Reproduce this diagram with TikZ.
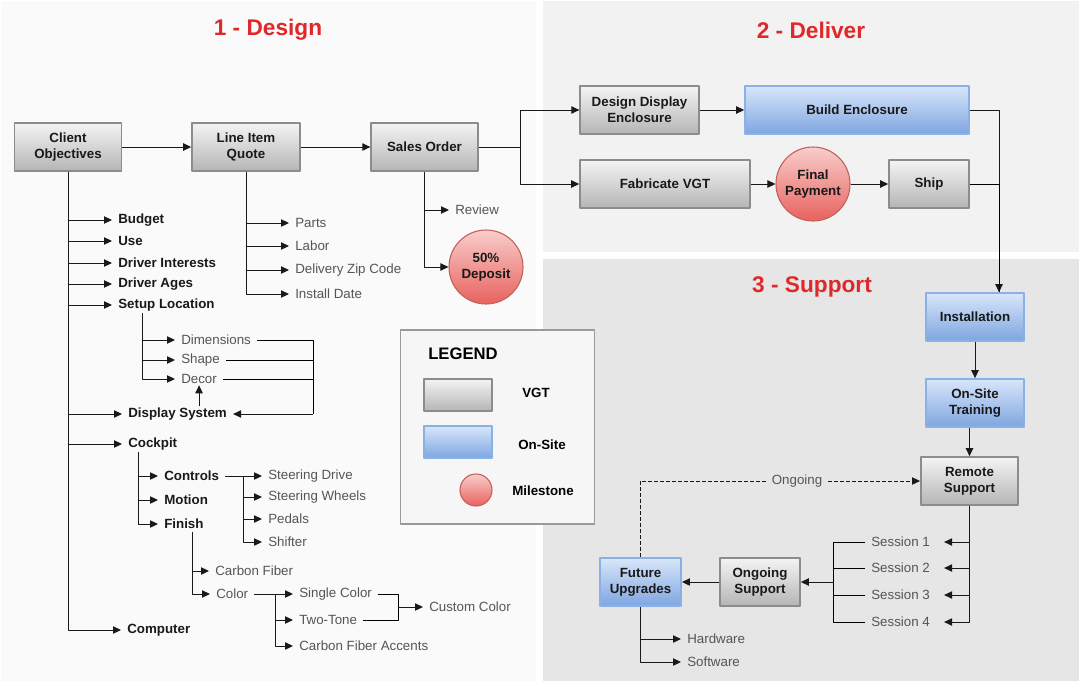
\documentclass[tikz,border=0pt]{standalone}
\usepackage{fontspec}
\setmainfont{Liberation Sans}
\usetikzlibrary{arrows.meta}
\definecolor{designbg}{HTML}{FAFAFA}
\definecolor{deliverbg}{HTML}{F2F2F2}
\definecolor{supportbg}{HTML}{E6E6E6}
\definecolor{vgttop}{HTML}{F4F4F4}
\definecolor{vgtbot}{HTML}{B5B5B5}
\definecolor{vgtline}{HTML}{8C8C8C}
\definecolor{sitetop}{HTML}{D8E6FA}
\definecolor{sitebot}{HTML}{7EA6E0}
\definecolor{siteline}{HTML}{8AB0E6}
\definecolor{miletop}{HTML}{F8CDCB}
\definecolor{milebot}{HTML}{E8625E}
\definecolor{mileline}{HTML}{C0605C}
\definecolor{leafgray}{HTML}{555555}
\definecolor{ttlred}{HTML}{E0282A}
\definecolor{legbg}{HTML}{F6F6F6}
\definecolor{legline}{HTML}{9A9A9A}
\begin{document}
\begin{tikzpicture}[x=0.75pt, y=-0.75pt, font=\fontsize{10}{12}\selectfont, line join=round, >={Triangle[length=6pt,width=5.5pt]}]
		\tikzset{
		vgt/.style={draw=vgtline, line width=1.2pt, top color=vgttop, bottom color=vgtbot, font=\fontsize{10}{12}\selectfont\bfseries, align=center, minimum height=36pt, inner sep=1pt, text=black!90},
		onsite/.style={vgt, draw=siteline, top color=sitetop, bottom color=sitebot},
		mstone/.style={circle, draw=mileline, line width=.8pt, top color=miletop, bottom color=milebot, font=\fontsize{10}{12}\selectfont\bfseries, align=center, minimum size=55.5pt, inner sep=0pt, text=black!90},
		itm/.style={anchor=west, inner xsep=4.5pt, inner ysep=1pt, font=\fontsize{10}{12}\selectfont\bfseries, text=black!90},
		leaf/.style={anchor=west, inner xsep=4.5pt, inner ysep=1pt, text=leafgray},
		conn/.style={->, line width=.75pt, draw=black!90},
		ttl/.style={font=\fontsize{17}{20}\selectfont\bfseries, text=ttlred}
		}
		\useasboundingbox (0,0) rectangle (1080,682);
		% panels
		\fill[white] (0,0) rectangle (1080,682);
		\fill[designbg] (1,1) rectangle (536,681);
		\fill[deliverbg] (543,1) rectangle (1079,252);
		\fill[supportbg] (543,259) rectangle (1079,681);
		\node[ttl] (t1) at (268,30) {1 - Design};
		\node[ttl] (t2) at (811,30) {2 - Deliver};
		\node[ttl] (t3) at (812,287) {3 - Support};
		% legend
		\node[draw=legline, fill=legbg, line width=.8pt, minimum width=146pt, minimum height=145.5pt] (legend) at (497.5,427) {};
		\node[font=\fontsize{12.5}{15}\selectfont\bfseries] (legtitle) at (463,354) {LEGEND};
		\node[vgt, minimum width=51pt, minimum height=24pt] (legvgt) at (458,395) {};
		\node[onsite, minimum width=51pt, minimum height=24pt] (legsite) at (458,442) {};
		\node[mstone, minimum size=24pt] (legmile) at (476,490) {};
		\node[font=\fontsize{10}{12}\selectfont\bfseries] (legvgtt) at (536,393) {VGT};
		\node[font=\fontsize{10}{12}\selectfont\bfseries] (legsitet) at (542,445) {On-Site};
		\node[font=\fontsize{10}{12}\selectfont\bfseries] (legmilet) at (543,491) {Milestone};
		% main flow
		\node[vgt, minimum width=80pt] (co) at (68,147) {Client\\Objectives};
		\node[vgt, minimum width=81pt] (liq) at (246,147) {Line Item\\Quote};
		\node[vgt, minimum width=80pt] (so) at (424.5,147) {Sales Order};
		\node[mstone] (dep) at (486,267) {50\%\\Deposit};
		\node[vgt, minimum width=89pt] (dde) at (639.5,110) {Design Display\\Enclosure};
		\node[onsite, minimum width=168pt] (be) at (857,110) {Build Enclosure};
		\node[vgt, minimum width=127.5pt] (fab) at (665,184) {Fabricate VGT};
		\node[mstone] (fp) at (813,184) {Final\\Payment};
		\node[vgt, minimum width=60pt] (ship) at (929,184) {Ship};
		\node[onsite, minimum width=73.5pt] (inst) at (975,317) {Installation};
		\node[onsite, minimum width=73.5pt] (ost) at (975,403) {On-Site\\Training};
		\node[vgt, minimum width=73pt] (rs) at (969.5,481) {Remote\\Support};
		\node[vgt, minimum width=60pt] (ongs) at (760,582) {Ongoing\\Support};
		\node[onsite, minimum width=61pt] (fu) at (640.5,582) {Future\\Upgrades};
		\draw[conn] (co) -- (liq);
		\draw[conn] (liq) -- (so);
		\draw[conn] (so.east) -- ++(42,0) |- (dde);
		\draw[conn] (so.east) -- ++(42,0) |- (fab);
		\draw[conn] (dde) -- (be);
		\draw[conn] (fab) -- (fp);
		\draw[conn] (fp) -- (ship);
		\coordinate (instin) at ([xshift=18pt]inst.north);
		\draw[conn] (be) -| (instin);
		\draw[line width=.75pt] (ship) -| (instin);
		\draw[conn] (inst) -- (ost);
		\draw[conn] (ost.south -| rs) -- (rs);
		% client objectives tree
		\foreach \n/\t/\y in {budget/Budget/220, use/Use/241, dint/Driver Interests/263, dage/Driver Ages/284, setup/Setup Location/305}{
		\node[itm] (\n) at (112,\y) {\t};
		}
		\node[itm] (dsys) at (122,414) {Display System};
		\node[itm] (cockpit) at (122,444) {Cockpit};
		\node[itm] (computer) at (121,630) {Computer};
		\foreach \n in {budget,use,dint,dage,setup,dsys,cockpit,computer}{
		\draw[conn] (co) |- (\n);
		}
		\foreach \n/\t/\y in {dim/Dimensions/340, shape/Shape/360, decor/Decor/379}{
		\node[leaf] (\n) at (175,\y) {\t};
		}
		\coordinate (setupdn) at (142,313);
		\foreach \n in {dim,shape,decor}{
		\draw[conn] (setupdn) |- (\n);
		}
		\coordinate (dsjoin) at (313,414);
		\foreach \n in {dim,shape,decor}{
		\draw[line width=.75pt] (\n.east) -| (dsjoin);
		}
		\draw[conn] (dsjoin) -- (dsys);
		\draw[conn] (dsys.north -| decor) -- (decor);
		% cockpit
		\foreach \n/\t/\y in {controls/Controls/476, motion/Motion/500, finish/Finish/524}{
		\node[itm] (\n) at (158,\y) {\t};
		}
		\coordinate (ckdn) at (138,452);
		\foreach \n in {controls,motion,finish}{
		\draw[conn] (ckdn) |- (\n);
		}
		\foreach \n/\t/\y in {sdrive/Steering Drive/476, swheel/Steering Wheels/497, pedals/Pedals/519, shifter/Shifter/542}{
		\node[leaf] (\n) at (262,\y) {\t};
		}
		\draw[conn] (controls) -- (sdrive);
		\coordinate (ctlj) at (243,476);
		\foreach \n in {swheel,pedals,shifter}{
		\draw[conn] (ctlj) |- (\n);
		}
		\node[leaf] (cfiber) at (209,571) {Carbon Fiber};
		\node[leaf] (color) at (210,594) {Color};
		\coordinate (findn) at (192,532);
		\foreach \n in {cfiber,color}{
		\draw[conn] (findn) |- (\n);
		}
		\foreach \n/\t/\y in {single/Single Color/594, twotone/Two-Tone/620, cfa/Carbon Fiber Accents/646}{
		\node[leaf] (\n) at (293,\y) {\t};
		}
		\draw[conn] (color) -- (single);
		\coordinate (colj) at (275,594);
		\foreach \n in {twotone,cfa}{
		\draw[conn] (colj) |- (\n);
		}
		\node[leaf] (custom) at (423,607) {Custom Color};
		\coordinate (cusj) at (398,607);
		\foreach \n in {single,twotone}{
		\draw[line width=.75pt] (\n.east) -| (cusj);
		}
		\draw[conn] (cusj) -- (custom);
		% quote and order
		\foreach \n/\t/\y in {parts/Parts/223, labor/Labor/246, zip/Delivery Zip Code/270, idate/Install Date/294}{
		\node[leaf] (\n) at (289,\y) {\t};
		\draw[conn] (liq) |- (\n);
		}
		\node[leaf] (review) at (449,210) {Review};
		\draw[conn] (so) |- (review);
		\draw[conn] (so) |- (dep);
		% support
		\coordinate (sjoin) at (833,582);
		\foreach \n/\y in {1/542, 2/568, 3/595, 4/622}{
		\node[leaf] (s\n) at (865,\y) {Session \n};
		\draw[conn, shorten >=6pt] (rs) |- (s\n);
		\draw[line width=.75pt] (s\n.west) -| (sjoin);
		}
		\draw[conn] (sjoin) -- (ongs);
		\draw[conn] (ongs) -- (fu);
		\node[leaf] (hw) at (681,639) {Hardware};
		\node[leaf] (sw) at (681,662) {Software};
		\foreach \n in {hw,sw}{
		\draw[conn] (fu) |- (\n);
		}
		\draw[conn, line width=.6pt, dash pattern=on 3pt off 1.5pt] (fu) |- (rs) node[pos=.78, fill=supportbg, text=leafgray, inner xsep=3pt, inner ysep=1pt] (ongl) {Ongoing};
	\end{tikzpicture}
\end{document}
